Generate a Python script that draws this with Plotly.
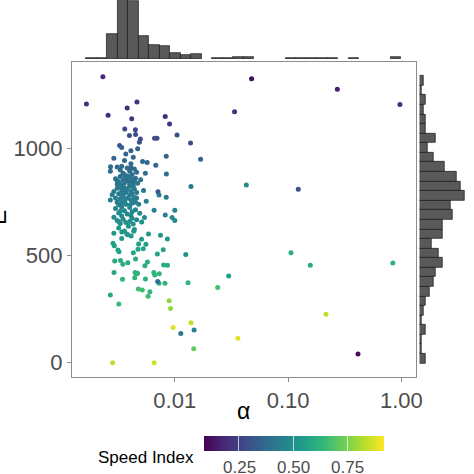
import numpy as np
import plotly.graph_objects as go

# ---- scatter data: alpha, F (y), speed index (colour) ----
alpha_sparse = [0.00232, 0.00166, 0.00258, 0.00380, 0.00464, 0.00417, 0.00824, 0.00899, 0.00362, 0.00449,
                0.00398, 0.00451, 0.00497, 0.00487, 0.00663, 0.00697, 0.01047, 0.01378, 0.00326, 0.0337,
                0.0476, 0.272, 0.97, 0.0428, 0.123, 0.106, 0.157, 0.84, 0.0299, 0.216,
                0.0360, 0.414, 0.00283, 0.00657, 0.0147, 0.0113, 0.0148, 0.00967, 0.0139, 0.00917,
                0.00892, 0.00321, 0.00270, 0.0239, 0.0131, 0.00840, 0.0084, 0.0169, 0.00571, 0.00680,
                0.00271, 0.00843, 0.0139, 0.00711, 0.00726, 0.00657, 0.0100, 0.00824, 0.00947, 0.0100,
                0.00748, 0.00861, 0.00791, 0.00702, 0.0125, 0.00797, 0.00862, 0.00819, 0.00726, 0.00707,
                0.00582, 0.00603, 0.00517, 0.00477, 0.00551, 0.00666, 0.00653, 0.00730, 0.00446, 0.00458,
                0.00470, 0.00443, 0.00346, 0.00291, 0.00295, 0.00332, 0.00348, 0.00385, 0.00451, 0.00545,
                0.00574, 0.00285, 0.00293, 0.00315, 0.00322, 0.00431, 0.00474, 0.00527, 0.00556, 0.00480,
                0.00385, 0.00412, 0.00434, 0.00341, 0.00377, 0.00509, 0.00586]
F_sparse = [1336, 1209, 1156, 1190, 1218, 1140, 1150, 1115, 1092, 1089,
            1062, 1066, 1045, 1030, 1049, 1049, 1064, 1027, 1015, 1173,
            1327, 1278, 1206, 830, 810, 514, 455, 466, 405, 226,
            114, 41, 0, 0, 65, 136, 153, 165, 187, 253,
            290, 274, 316, 351, 374, 773, 965, 951, 935, 923,
            916, 882, 823, 799, 784, 712, 712, 690, 678, 664,
            596, 578, 528, 508, 506, 457, 455, 371, 371, 380,
            310, 332, 340, 344, 391, 410, 422, 416, 422, 416,
            418, 397, 390, 421, 475, 477, 460, 467, 485, 453,
            471, 558, 547, 527, 519, 514, 530, 533, 553, 555,
            598, 592, 614, 611, 601, 577, 601]
speed_sparse = [0.18, 0.20, 0.20, 0.20, 0.20, 0.22, 0.20, 0.22, 0.27, 0.27,
                0.28, 0.28, 0.28, 0.30, 0.28, 0.28, 0.28, 0.28, 0.31, 0.20,
                0.11, 0.16, 0.20, 0.48, 0.30, 0.60, 0.60, 0.62, 0.55, 0.85,
                0.88, 0.12, 0.84, 0.86, 0.72, 0.42, 0.45, 0.88, 0.85, 0.78,
                0.78, 0.65, 0.60, 0.67, 0.63, 0.44, 0.35, 0.35, 0.36, 0.36,
                0.38, 0.39, 0.43, 0.30, 0.43, 0.46, 0.46, 0.47, 0.48, 0.48,
                0.53, 0.53, 0.57, 0.57, 0.52, 0.60, 0.60, 0.63, 0.63, 0.40,
                0.66, 0.64, 0.66, 0.66, 0.62, 0.63, 0.62, 0.63, 0.63, 0.62,
                0.63, 0.62, 0.63, 0.58, 0.58, 0.60, 0.60, 0.60, 0.60, 0.60,
                0.60, 0.56, 0.56, 0.57, 0.57, 0.57, 0.57, 0.57, 0.56, 0.56,
                0.53, 0.53, 0.53, 0.53, 0.53, 0.54, 0.53]

alpha_cluster = [0.0034, 0.0041, 0.0037, 0.0047,
                 0.0029, 0.0036, 0.0043, 0.0041, 0.0052,
                 0.0031, 0.0033, 0.0035, 0.0038, 0.0040, 0.0042, 0.0044, 0.0046, 0.0036, 0.0034, 0.0041, 0.0055, 0.0027,
                 0.0030, 0.0032, 0.0033, 0.0034, 0.0035, 0.0036, 0.0037, 0.0038, 0.0040, 0.0040, 0.0041, 0.0042, 0.0043,
                 0.0044, 0.0045, 0.0047, 0.0031, 0.0031, 0.0050, 0.0038,
                 0.0029, 0.0031, 0.0032, 0.0033, 0.0034, 0.0035, 0.0036, 0.0037, 0.0038, 0.0040, 0.0040, 0.0041, 0.0042,
                 0.0044, 0.0046, 0.0053, 0.0036, 0.0028, 0.0043,
                 0.0030, 0.0031, 0.0032, 0.0033, 0.0034, 0.0035, 0.0036, 0.0037, 0.0038, 0.0043, 0.0040, 0.0041, 0.0042,
                 0.0044, 0.0045, 0.0048, 0.0027, 0.0034, 0.0046, 0.0056,
                 0.0030, 0.0032, 0.0034, 0.0036, 0.0038, 0.0040, 0.0042, 0.0045, 0.0049, 0.0033,
                 0.0029, 0.0031, 0.0033, 0.0034, 0.0035, 0.0037, 0.0042, 0.0040, 0.0041, 0.0043, 0.0046, 0.0051, 0.0054, 0.0032,
                 0.0032, 0.0036, 0.0039, 0.0044, 0.0029,
                 0.0034]
F_cluster = [1005, 990, 975, 1000,
             955, 945, 960, 930, 940,
             915, 900, 885, 910, 895, 880, 905, 890, 878, 918, 912, 885, 895,
             860, 845, 870, 832, 855, 840, 865, 850, 835, 868, 845, 857, 830,
             848, 862, 838, 835, 850, 855, 872,
             800, 815, 790, 822, 805, 785, 818, 795, 810, 783, 825, 800, 788,
             812, 795, 805, 802, 785, 820,
             770, 750, 738, 765, 745, 775, 755, 740, 768, 752, 736, 760, 745,
             772, 750, 740, 760, 778, 770, 755,
             720, 700, 728, 710, 695, 725, 705, 715, 698, 708,
             680, 665, 650, 685, 670, 655, 675, 660, 688, 648, 668, 657, 678, 660,
             630, 615, 638, 622, 605,
             580]
speed_cluster = [0.34, 0.35, 0.36, 0.34,
                 0.36, 0.37, 0.36, 0.38, 0.37,
                 0.38, 0.39, 0.39, 0.38, 0.39, 0.40, 0.39, 0.39, 0.40, 0.38, 0.38, 0.40, 0.39,
                 0.41, 0.41, 0.40, 0.42, 0.41, 0.42, 0.41, 0.41, 0.42, 0.40, 0.41, 0.41, 0.42,
                 0.41, 0.40, 0.42, 0.42, 0.41, 0.41, 0.40,
                 0.43, 0.42, 0.43, 0.42, 0.43, 0.44, 0.42, 0.43, 0.43, 0.44, 0.42, 0.43, 0.44,
                 0.43, 0.43, 0.43, 0.43, 0.44, 0.42,
                 0.44, 0.45, 0.46, 0.44, 0.45, 0.44, 0.45, 0.46, 0.44, 0.45, 0.46, 0.45, 0.45,
                 0.44, 0.45, 0.46, 0.45, 0.44, 0.44, 0.45,
                 0.47, 0.48, 0.46, 0.47, 0.48, 0.47, 0.48, 0.47, 0.48, 0.48,
                 0.49, 0.50, 0.50, 0.49, 0.49, 0.50, 0.49, 0.50, 0.48, 0.51, 0.49, 0.50, 0.49, 0.50,
                 0.52, 0.53, 0.51, 0.52, 0.53,
                 0.54]

alpha = alpha_sparse + alpha_cluster
F = F_sparse + F_cluster
speed = speed_sparse + speed_cluster

x_ticks = [0.01, 0.1, 1.0]
x_ticktext = ["0.01", "0.10", "1.00"]
y_ticks = [0, 500, 1000]
cb_ticks = [0.25, 0.50, 0.75]
cb_ticktext = ["0.25", "0.50", "0.75"]
cb_min, cb_max = 0.09, 0.92

W = H = 474
FONT = "Liberation Sans, Arial, sans-serif"
GREY = "#4d4d4d"

x_range_log = [-2.909, 0.132]
y_range = [-65.4, 1406.5]

def px_x(p):
    return p / W

def px_y(p):
    return 1 - p / H

# colour bar geometry (pixels)
cb_left, cb_right, cb_top, cb_thick = 207, 389, 436, 15

fig = go.Figure()

fig.add_trace(go.Scatter(
    x=alpha, y=F, mode="markers",
    marker=dict(size=5, color=speed, colorscale="Viridis", cmin=cb_min, cmax=cb_max,
                line=dict(width=0),
                showscale=True,
                colorbar=dict(orientation="h", x=px_x((cb_left + cb_right) / 2), xanchor="center",
                              y=px_y(cb_top), yanchor="top", len=(cb_right - cb_left) / W,
                              lenmode="fraction",
                              thickness=cb_thick, thicknessmode="pixels", outlinewidth=0,
                              xpad=0, ypad=0,
                              tickvals=cb_ticks, showticklabels=False,
                              ticks="inside", ticklen=cb_thick, tickcolor="rgba(255,255,255,0.7)")),
    showlegend=False, hoverinfo="skip"))

fig.add_trace(go.Histogram(
    x=np.log10(alpha), xaxis="x2", yaxis="y2",
    xbins=dict(start=-2.784, end=-0.004, size=(2.784 - 0.004) / 30),
    marker=dict(color="#595959", line=dict(color="#1a1a1a", width=0.7)),
    showlegend=False, hoverinfo="skip"))

fig.add_trace(go.Histogram(
    y=F, xaxis="x3", yaxis="y3",
    ybins=dict(start=-3, end=1340, size=1343 / 30),
    marker=dict(color="#595959", line=dict(color="#1a1a1a", width=0.7)),
    showlegend=False, hoverinfo="skip"))

main_xdom = [px_x(72.7), px_x(421.7)]
main_ydom = [px_y(376.7), px_y(61.7)]

annotations = [
    dict(text="α", x=px_x(247), y=px_y(411), xref="paper", yref="paper",
         showarrow=False, font=dict(size=23, color="black", family=FONT),
         xanchor="center", yanchor="middle"),
    dict(text="E", x=px_x(-2), y=px_y(218), xref="paper", yref="paper",
         showarrow=False, textangle=-90, font=dict(size=23, color="black", family=FONT),
         xanchor="center", yanchor="middle"),
    dict(text="Speed Index", x=px_x(199), y=px_y(457), xref="paper", yref="paper",
         showarrow=False, font=dict(size=17, color="black", family=FONT),
         xanchor="right", yanchor="middle"),
]
# colour bar tick labels, placed on the colour bar's own value scale
for v, t in zip(cb_ticks, cb_ticktext):
    xp = cb_left + (v - cb_min) / (cb_max - cb_min) * (cb_right - cb_left)
    annotations.append(dict(text=t, x=px_x(xp), y=px_y(467), xref="paper", yref="paper",
                            showarrow=False, font=dict(size=17, color=GREY, family=FONT),
                            xanchor="center", yanchor="middle"))

fig.update_layout(
    width=W, height=H, autosize=False, margin=dict(l=0, r=0, t=0, b=0),
    paper_bgcolor="white", plot_bgcolor="white",
    bargap=0,
    font=dict(family=FONT),
    xaxis=dict(type="log", domain=main_xdom, range=x_range_log,
               tickvals=x_ticks, ticktext=x_ticktext,
               showgrid=False, zeroline=False, showline=True, mirror=True,
               linecolor="#8c8c8c", linewidth=1,
               ticks="outside", ticklen=4, tickcolor="#8c8c8c",
               tickfont=dict(size=22, color=GREY, family=FONT)),
    yaxis=dict(domain=main_ydom, range=y_range, tickvals=y_ticks,
               showgrid=False, zeroline=False, showline=True, mirror=True,
               linecolor="#8c8c8c", linewidth=1,
               ticks="outside", ticklen=4, tickcolor="#8c8c8c",
               tickfont=dict(size=22, color=GREY, family=FONT)),
    xaxis2=dict(domain=main_xdom, range=x_range_log, visible=False, anchor="y2"),
    yaxis2=dict(domain=[px_y(59), 1.0], range=[0, 57], visible=False, anchor="x2"),
    xaxis3=dict(domain=[px_x(425), 1.0], range=[0, 23.5], visible=False, anchor="y3"),
    yaxis3=dict(domain=main_ydom, range=y_range, visible=False, anchor="x3"),
    annotations=annotations,
)

fig.write_html("out.html",
               config={"displayModeBar": False, "responsive": False},
               post_script="document.body.style.margin='0';document.body.style.overflow='hidden';")
